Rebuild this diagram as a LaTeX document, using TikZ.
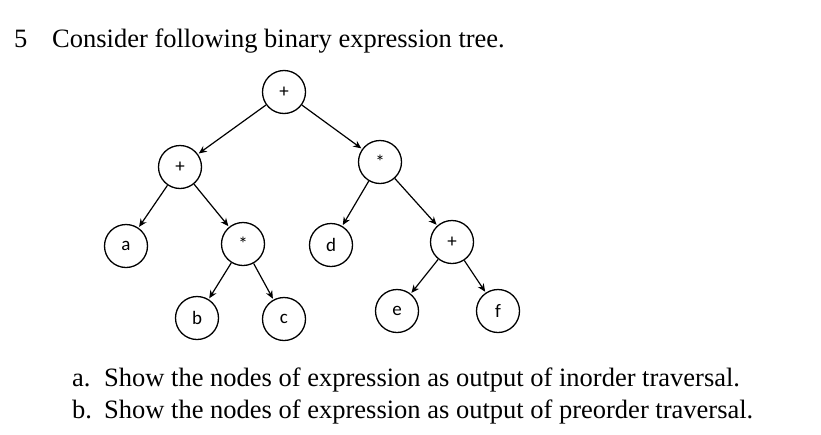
\documentclass[tikz,border=0pt]{standalone}
\usepackage{fontspec}
\setmainfont{Liberation Serif}
\newfontfamily\nodefont{Carlito}
\usetikzlibrary{arrows.meta}
\begin{document}
\begin{tikzpicture}[x=1pt,y=-1pt,
  tn/.style={circle,draw,line width=1.3pt,minimum size=43pt,inner sep=0pt,font=\nodefont\fontsize{19}{22}\selectfont},
  ed/.style={line width=1.2pt,-{Stealth[length=8pt,width=7pt]},shorten >=1pt},
  txt/.style={anchor=base west,inner sep=0pt,font=\fontsize{26.5}{30}\selectfont}]
\useasboundingbox (0,0) rectangle (821,434);
\node[txt] (t0) at (14,47) {5};
\node[txt] (t1) at (52,47) {Consider following binary expression tree.};
\node[txt] (ta) at (72,386) {a.};
\node[txt] (tat) at (104,386) {Show the nodes of expression as output of inorder traversal.};
\node[txt] (tb) at (72,418) {b.};
\node[txt] (tbt) at (104,418) {Show the nodes of expression as output of preorder traversal.};
\node[tn] (r) at (284,92) {+};
\node[tn] (l) at (180,167) {+};
\node[tn] (rr) at (380,162) {*};
\node[tn] (a) at (126,246) {a};
\node[tn] (m) at (243,244) {*};
\node[tn] (d) at (331,245) {d};
\node[tn] (p) at (452,242) {+};
\node[tn] (b) at (197,318) {b};
\node[tn] (c) at (284,319) {c};
\node[tn] (e) at (397,311) {e};
\node[tn] (f) at (498,311) {f};
\draw[ed] (r) -- (l);
\draw[ed] (r) -- (rr);
\draw[ed] (l) -- (a);
\draw[ed] (l) -- (m);
\draw[ed] (rr) -- (d);
\draw[ed] (rr) -- (p);
\draw[ed] (m) -- (b);
\draw[ed] (m) -- (c);
\draw[ed] (p) -- (e);
\draw[ed] (p) -- (f);
\end{tikzpicture}
\end{document}
